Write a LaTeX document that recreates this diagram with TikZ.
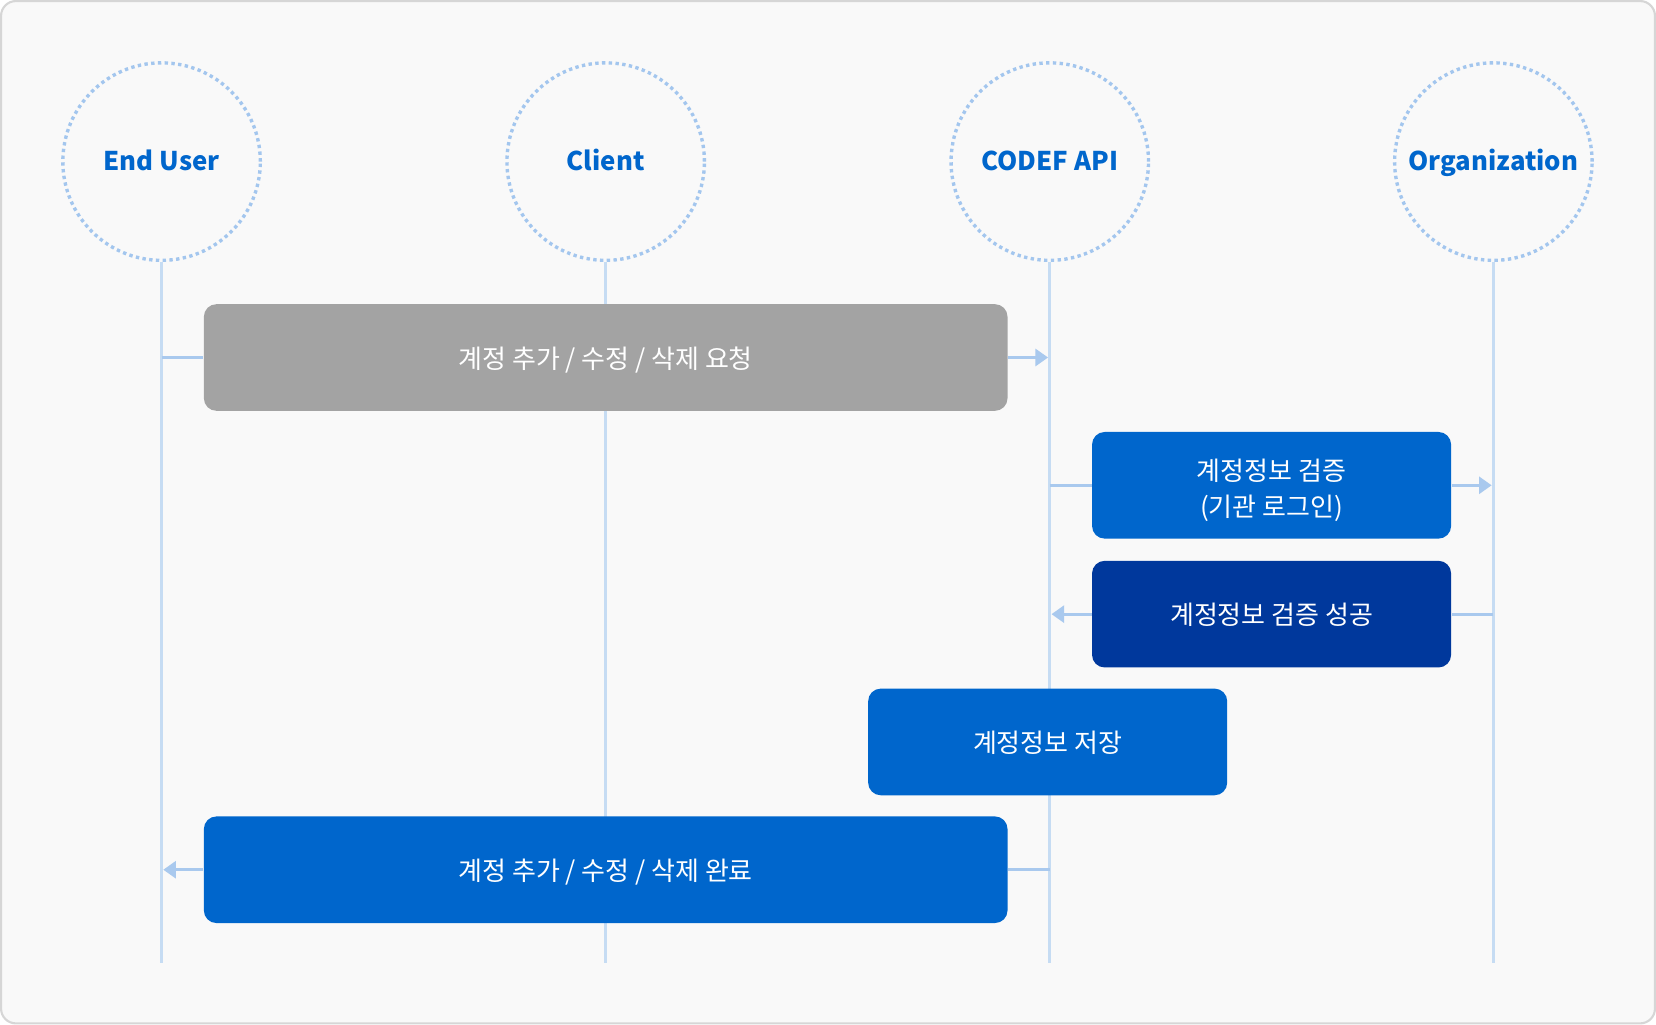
\documentclass[tikz,border=0pt]{standalone}
\usepackage{fontspec}
\setmainfont{Noto Sans CJK KR}
\usetikzlibrary{arrows.meta, positioning}

\definecolor{codefblue}{HTML}{0066CC}
\definecolor{codefnavy}{HTML}{00389C}
\definecolor{boxgray}{HTML}{A3A3A3}
\definecolor{lifeblue}{HTML}{C6DCF3}
\definecolor{arrowblue}{HTML}{A9C9EE}
\definecolor{dotblue}{HTML}{A3C6EE}
\definecolor{framegray}{HTML}{D6D6D6}
\definecolor{pagegray}{HTML}{F9F9F9}

\tikzset{
  actor/.style={circle, draw=dotblue, line width=1.6pt, dash pattern=on 1.6pt off 1.6pt,
    minimum size=93.5pt, inner sep=0pt, text=codefblue, text height=1.05em, text depth=0.2em,
    font=\fontsize{12.2}{15}\selectfont\bfseries},
  msg/.style={rounded corners=6pt, minimum height=50.5pt, text=white, align=center,
    text height=1.1em, text depth=0.1em, font=\fontsize{12.3}{17}\selectfont},
  twoline/.style={text height=30.5pt, text depth=1.23pt},
  life/.style={lifeblue, line width=1.5pt},
  call/.style={arrowblue, line width=1.5pt},
  callarrow/.style={-{Triangle[length=6pt,width=8pt]}, shorten >=0.8pt}
}

\begin{document}
\begin{tikzpicture}[x=0.5pt, y=-0.5pt]
  % page frame
  \useasboundingbox (0,0) rectangle (1568,970);
  \draw[framegray, fill=pagegray, line width=1pt, rounded corners=7pt] (1,1) rectangle (1567,969);

  % participants
  \node[actor] (user) at (153,153) {End User};
  \node[actor] (client) at (573.5,153) {Client};
  \node[actor] (codef) at (994,153) {CODEF API};
  \node[actor] (org) at (1414,153) {Organization};

  % lifelines
  \foreach \p in {user, client, codef, org}
    \draw[life] (\p.south) -- (\p.south |- 0,912);

  % messages
  \node[msg, fill=boxgray, minimum width=380.5pt] (req) at (573.5,338.5) {계정 추가 / 수정 / 삭제 요청};
  \node[msg, twoline, fill=codefblue, minimum width=170pt] (check) at (1204,459.5) {계정정보 검증\\(기관 로그인)};
  \node[msg, fill=codefnavy, minimum width=170pt] (ok) at (1204,581.5) {계정정보 검증 성공};
  \node[msg, fill=codefblue, minimum width=170pt] (save) at (992,702.5) {계정정보 저장};
  \node[msg, fill=codefblue, minimum width=380.5pt] (done) at (573.5,823.5) {계정 추가 / 수정 / 삭제 완료};

  % arrows
  \draw[call] (user |- req) -- (req.west);
  \draw[call, callarrow] (req.east) -- (codef |- req);
  \draw[call] (codef |- check) -- (check.west);
  \draw[call, callarrow] (check.east) -- (org |- check);
  \draw[call] (org |- ok) -- (ok.east);
  \draw[call, callarrow] (ok.west) -- (codef |- ok);
  \draw[call] (codef |- done) -- (done.east);
  \draw[call, callarrow] (done.west) -- (user |- done);
\end{tikzpicture}
\end{document}
